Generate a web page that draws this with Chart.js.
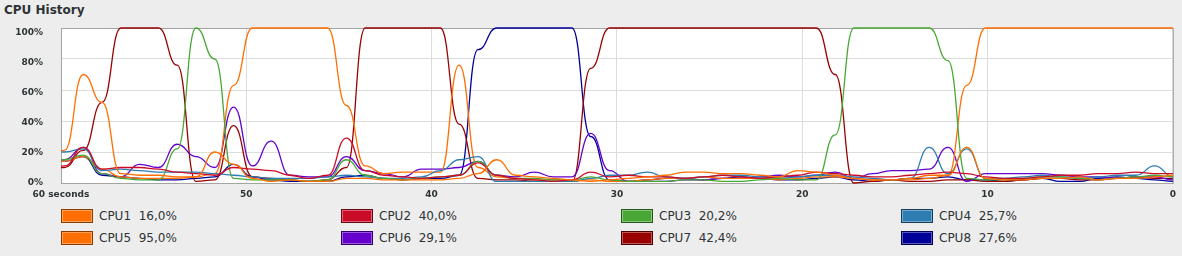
<!DOCTYPE html>
<html>
<head>
<meta charset="utf-8">
<script src="https://cdn.jsdelivr.net/npm/chart.js@4/dist/chart.umd.min.js"></script>
<style>
  body { margin: 0; width: 1182px; height: 256px; overflow: hidden; background: #ededed; font-family: "DejaVu Sans", sans-serif; color: #2e3436; }
  #title { position: absolute; left: 4px; top: 3px; font: bold 12px "DejaVu Sans"; line-height: 14px; }
  #wrap { position: absolute; left: 0; top: 0; width: 1182px; height: 200px; }
  #legend { position: absolute; left: 61px; top: 209px; display: grid; grid-template-columns: repeat(4, 280px); row-gap: 8px; }
  .item { display: flex; align-items: center; height: 14px; font-size: 12px; white-space: pre; }
  .box { width: 30px; height: 12px; margin-right: 6px; border: 1px solid; box-shadow: inset 0 0 0 1px rgba(255,255,255,0.35); }
</style>
</head>
<body>
<div id="title">CPU History</div>
<div id="wrap"><canvas id="cpu" width="1182" height="200"></canvas></div>
<div id="legend"></div>
<script>
// one sample per update, oldest first
let cpu1 = [19, 21, 70, 52, 6, 5, 5, 4, 4, 20, 12, 3, 1, 2, 1, 1, 3, 3, 2, 2, 2, 2, 3, 6, 15, 5, 4, 3, 2, 1, 2, 3, 4, 5, 7, 7, 6, 6, 5, 4, 8, 7, 5, 3, 2, 2, 3, 5, 5, 23, 3, 2, 2, 3, 3, 4, 2, 3, 3, 4, 5];
let cpu2 = [10, 11, 23, 9, 10, 10, 9, 7, 6, 5, 10, 9, 8, 5, 3, 5, 29, 8, 5, 4, 3, 4, 5, 13, 5, 3, 2, 1, 2, 7, 4, 5, 4, 4, 3, 4, 5, 4, 3, 4, 5, 7, 6, 5, 4, 4, 5, 6, 7, 6, 4, 3, 3, 4, 5, 5, 6, 6, 7, 6, 6];
let cpu3 = [14, 15, 18, 6, 3, 2, 2, 22, 100, 80, 3, 2, 2, 2, 1, 2, 15, 5, 3, 2, 3, 4, 5, 14, 5, 3, 3, 2, 2, 4, 2, 1, 1, 1, 2, 2, 1, 1, 2, 3, 2, 2, 31, 100, 100, 100, 100, 100, 79, 3, 2, 2, 3, 4, 4, 3, 2, 3, 4, 5, 4];
let cpu4 = [21, 20, 22, 8, 9, 8, 7, 7, 7, 6, 5, 4, 3, 3, 3, 4, 5, 4, 3, 3, 4, 8, 15, 17, 1, 1, 1, 1, 1, 3, 5, 5, 7, 4, 3, 4, 5, 5, 4, 3, 4, 5, 5, 4, 3, 2, 3, 23, 6, 22, 3, 3, 4, 5, 4, 3, 4, 5, 5, 11, 4];
let cpu5 = [14, 14, 17, 9, 4, 3, 3, 3, 4, 6, 63, 100, 100, 100, 100, 100, 50, 11, 6, 7, 7, 7, 76, 10, 4, 3, 2, 2, 1, 2, 1, 1, 2, 3, 3, 4, 3, 3, 3, 2, 3, 4, 4, 3, 2, 2, 2, 3, 5, 63, 100, 100, 100, 100, 100, 100, 100, 100, 100, 100, 100];
let cpu6 = [13, 15, 23, 6, 4, 12, 10, 25, 17, 10, 49, 11, 27, 5, 4, 4, 17, 8, 6, 4, 9, 9, 10, 14, 5, 4, 7, 4, 4, 32, 8, 1, 1, 1, 2, 2, 3, 3, 4, 5, 4, 5, 7, 3, 6, 8, 8, 9, 23, 1, 6, 6, 6, 6, 5, 4, 4, 3, 4, 4, 2];
let cpu7 = [8, 10, 21, 52, 100, 100, 100, 76, 1, 2, 37, 4, 3, 2, 1, 2, 10, 100, 100, 100, 100, 100, 38, 3, 2, 2, 1, 1, 1, 74, 100, 100, 100, 100, 100, 100, 100, 100, 100, 100, 100, 100, 70, 0, 1, 2, 1, 1, 2, 2, 1, 1, 2, 3, 3, 2, 2, 3, 4, 3, 3];
let cpu8 = [15, 14, 17, 5, 4, 3, 2, 2, 3, 4, 12, 4, 2, 1, 1, 1, 4, 5, 3, 2, 3, 3, 5, 86, 100, 100, 100, 100, 100, 30, 2, 1, 2, 3, 3, 2, 3, 4, 3, 2, 2, 3, 4, 2, 1, 2, 3, 3, 4, 2, 2, 1, 2, 3, 1, 1, 3, 4, 3, 2, 1];

let names = ["CPU1", "CPU2", "CPU3", "CPU4", "CPU5", "CPU6", "CPU7", "CPU8"];
let current = [16.0, 40.0, 20.2, 25.7, 95.0, 29.1, 42.4, 27.6];
let colorHex = ["#ff6e00", "#cb0c29", "#49a835", "#2d7db3", "#ff6e00", "#6600cc", "#990000", "#000099"];
let borderHex = ["#8a3c00", "#6a0615", "#245a1a", "#173f5a", "#8a3c00", "#33006a", "#4d0000", "#00004d"];
let yTicks = [0, 20, 40, 60, 80, 100];

// samples arrive slightly slower than 1 per second, first one just off the left edge
let firstAge = 60.83;
let sampleStep = 1.0144;
let ages = cpu1.map((v, i) => firstAge - i * sampleStep);

// the % labels sit a little tighter than the grid lines
let labelAxisMax = 103.1;

let series = [cpu1, cpu2, cpu3, cpu4, cpu5, cpu6, cpu7, cpu8];

// gnome style curves: flat tangent at every sample
let flatCurves = {
  id: "flatCurves",
  beforeDatasetDraw: (chart, args) => {
    let line = args.meta.dataset;
    line.updateControlPoints(chart.chartArea, "x");
    let pts = args.meta.data;
    for (let i = 0; i < pts.length; i++) {
      let p = pts[i];
      let prev = pts[i - 1] || p;
      let next = pts[i + 1] || p;
      p.cp1x = (prev.x + p.x) / 2;
      p.cp1y = p.y;
      p.cp2x = (p.x + next.x) / 2;
      p.cp2y = p.y;
    }
  },
};

let frame = {
  id: "frame",
  beforeDraw: (chart) => {
    let a = chart.chartArea;
    let ctx = chart.ctx;
    ctx.save();
    ctx.fillStyle = "#ffffff";
    ctx.fillRect(a.left, a.top, a.right - a.left, a.bottom - a.top);
    ctx.restore();
  },
  beforeDatasetsDraw: (chart) => {
    let a = chart.chartArea;
    let ctx = chart.ctx;
    ctx.save();
    ctx.strokeStyle = "#a4a4a4";
    ctx.lineWidth = 1;
    ctx.strokeRect(a.left + 0.5, a.top + 0.5, a.right - a.left, a.bottom - a.top);
    ctx.restore();
  },
};

Chart.defaults.font.family = "'DejaVu Sans'";

let tickFont = { size: 9, weight: "bold" };

let cpu = new Chart(document.getElementById("cpu").getContext("2d"), {
  type: "line",
  data: {
    labels: ages,
    datasets: series.map((s, i) => ({
      label: names[i],
      data: s,
      borderColor: colorHex[i],
      borderWidth: 1.3,
      pointRadius: 0,
      tension: 0.4,
      fill: false,
      clip: { left: 0, top: 2, right: 0, bottom: 2 },
    })),
  },
  options: {
    responsive: false,
    animation: false,
    events: [],
    layout: {
      padding: { top: 28, right: 9, left: 0, bottom: 0 },
    },
    scales: {
      x: {
        type: "linear",
        min: 0,
        max: 60,
        reverse: true,
        afterFit: (scale) => {
          scale.height = 17;
        },
        border: { display: false },
        grid: { color: "#dcdcdc", drawTicks: false },
        ticks: {
          stepSize: 10,
          padding: 6,
          maxRotation: 0,
          autoSkip: false,
          color: "#2e3436",
          font: tickFont,
          callback: (value) => {
            return value === 60 ? "60 seconds" : value;
          },
        },
      },
      y: {
        min: 0,
        max: 100,
        afterFit: (scale) => {
          scale.width = 0;
        },
        afterBuildTicks: (scale) => {
          scale.ticks = yTicks.map((v) => ({ value: v }));
        },
        border: { display: false },
        grid: { color: "#dcdcdc", drawTicks: false },
        ticks: { display: false },
      },
      yLabels: {
        position: "left",
        min: 0,
        max: labelAxisMax,
        afterFit: (scale) => {
          scale.width = 61;
        },
        afterBuildTicks: (scale) => {
          scale.ticks = yTicks.map((v) => ({ value: v }));
        },
        border: { display: false },
        grid: { display: false },
        ticks: {
          padding: 10,
          color: "#2e3436",
          font: tickFont,
          callback: (value) => {
            return value + "%";
          },
        },
      },
    },
    plugins: {
      legend: { display: false },
      tooltip: { enabled: false },
    },
  },
  plugins: [frame, flatCurves],
});

let legend = document.getElementById("legend");
names.forEach((n, i) => {
  let item = document.createElement("div");
  item.className = "item";
  let box = document.createElement("span");
  box.className = "box";
  box.style.background = colorHex[i];
  box.style.borderColor = borderHex[i];
  let text = document.createElement("span");
  text.textContent = n + "  " + current[i].toFixed(1).replace(".", ",") + "%";
  item.appendChild(box);
  item.appendChild(text);
  legend.appendChild(item);
});
</script>
</body>
</html>
